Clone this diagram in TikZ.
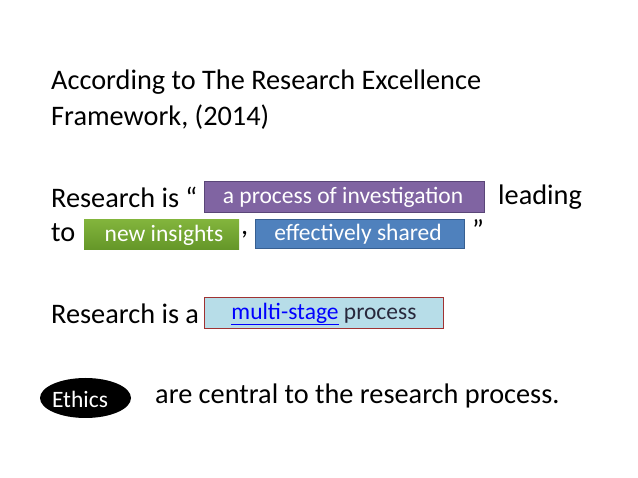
\documentclass[tikz,border=0pt]{standalone}
\usepackage{fontspec}
\setmainfont{Carlito}
\begin{document}
\begin{tikzpicture}[x=1pt,y=-1pt,
  txt/.style={anchor=west,inner sep=0pt,font=\fontsize{28.3}{34}\selectfont},
  boxt/.style={font=\fontsize{23.5}{28}\selectfont,text=white,inner sep=0pt},
  bx/.style={draw,line width=1pt}]
\useasboundingbox (0,0) rectangle (638,478);
\node[txt] (l1) at (51,82) {According to The Research Excellence};
\node[txt] (l2) at (51,117) {Framework, (2014)};
\node[txt] (r1) at (51,197) {Research is “};
\draw[bx,fill={rgb,255:red,128;green,100;blue,162},draw={rgb,255:red,90;green,70;blue,120}] (204,182) rectangle (484,213);
\node[boxt] (p) at (343,197.5) {a process of investigation};
\node[txt] (lead) at (498,197) {leading};
\node[txt] (to) at (51,233) {to};
\shade[top color={rgb,255:red,130;green,180;blue,60},bottom color={rgb,255:red,100;green,150;blue,40}] (84,220) rectangle (239,250);
\node[boxt] (ni) at (164,235) {new insights};
\node[txt] (c) at (241,235) {,};
\draw[bx,fill={rgb,255:red,79;green,129;blue,189},draw={rgb,255:red,55;green,95;blue,145}] (255,220) rectangle (464,249);
\node[boxt] (es) at (358,234.5) {effectively shared};
\node[txt] (q) at (472,230) {”};
\node[txt] (r2) at (51,314) {Research is a};
\draw[bx,fill={rgb,255:red,183;green,221;blue,232},draw={rgb,255:red,160;green,50;blue,50}] (204,298) rectangle (443,329);
\node[boxt,text={rgb,255:red,40;green,40;blue,60}] (ms) at (324,314) {\textcolor{blue}{\underline{multi-stage}} process};
\fill[black] (85.5,398) ellipse (45.5 and 20);
\node[boxt] (eth) at (80,399) {Ethics};
\node[txt] (cen) at (155,396) {are central to the research process.};
\end{tikzpicture}
\end{document}
